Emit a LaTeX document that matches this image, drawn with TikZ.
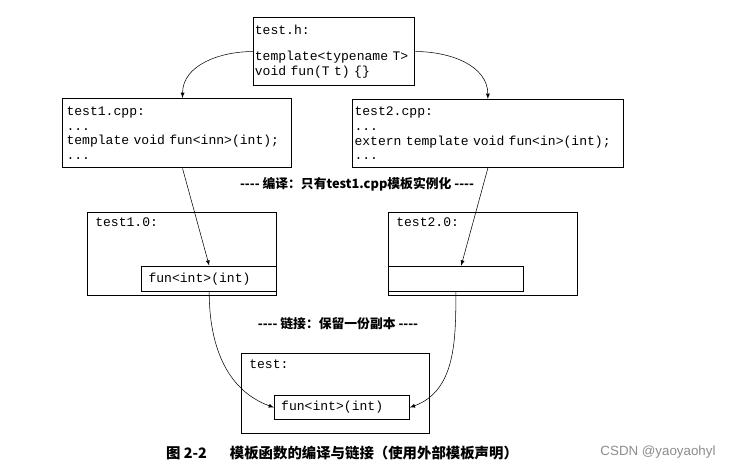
\documentclass[tikz,border=0pt]{standalone}
\usepackage{fontspec}
\newfontfamily\cjk{Noto Sans CJK SC}
\newfontfamily\srcmono{Liberation Mono}
\newfontfamily\marksans{Liberation Sans}
\usetikzlibrary{arrows, positioning}

\newcommand\srcfont{\srcmono\fontsize{9.8}{11}\selectfont}

\tikzset{
  src/.style={draw, line width=0.8pt, anchor=north west, font=\srcfont, align=left, inner xsep=4pt, inner ysep=2pt},
  obj/.style={draw, line width=0.8pt, anchor=north west, inner sep=0pt},
  fn/.style={draw, line width=0.8pt, font=\srcfont, align=left, inner xsep=5pt, inner ysep=0pt, text width=91pt, minimum height=19pt},
  note/.style={font=\cjk\bfseries\fontsize{9.6}{11}\selectfont},
}

\begin{document}
\begin{tikzpicture}[x=0.75pt, y=0.75pt, >=latex]
\useasboundingbox (0,0) rectangle (730,469);

% source files
\node (hdr) at (253,452) [src, inner xsep=1pt, text width=119pt, minimum height=51pt] {test.h:\\[9pt]template<typename T>\\void fun(T t) \{\}};
\node (cppa) at (62,371) [src, inner xsep=3pt, text width=166pt, minimum height=52pt] {test1.cpp:\\...\\template void fun<inn>(int);\\...};
\node (cppb) at (352,370) [src, inner xsep=1.5pt, text width=200pt, minimum height=51pt] {test2.cpp:\\...\\extern template void fun<in>(int);\\...};

\node (compile) at (357,285) [note] {{-}{-}{-}{-} 编译：只有test1.cpp模板实例化 {-}{-}{-}{-}};

% object files
\node (oa) at (87,257) [obj, minimum width=141.75pt, minimum height=62.25pt] {};
\node (oat) [below right=4pt and 6pt of oa.north west, font=\srcfont, inner sep=0pt] {test1.0:};
\node (funa) [fn, above left=3pt and 0pt of oa.south east] {fun<int>(int)};

\node (ob) at (388,257) [obj, minimum width=141.75pt, minimum height=62.25pt] {};
\node (obt) [below right=4pt and 6pt of ob.north west, font=\srcfont, inner sep=0pt] {test2.0:};
\node (funb) [fn, above right=3pt and 0pt of ob.south west] {};

\node (link) at (338,145) [note] {{-}{-}{-}{-} 链接：保留一份副本 {-}{-}{-}{-}};

% executable
\node (exe) at (241,116) [obj, minimum width=141pt, minimum height=60pt] {};
\node (exet) [below right=5pt and 6pt of exe.north west, font=\srcfont, inner sep=0pt] {test:};
\node (func) at (274,74) [fn, anchor=north west, minimum height=18pt] {fun<int>(int)};

\draw [->] (hdr.west) to[out=180, in=90] ([xshift=4pt]cppa.north);
\draw [->] (hdr.east) to[out=0, in=90] (cppb.north);
\draw [->] ([xshift=4pt]cppa.south) -- (funa.north);
\draw [->] (cppb.south) -- ([xshift=4pt]funb.north);
\draw [->] (funa.south) to[out=-90, in=160] (func.west);
\draw [->] (funb.south) to[out=-90, in=20] (func.east);

\node (caption) at (342,16) [font=\cjk\bfseries\fontsize{10.8}{12}\selectfont] {图 2-2\hspace{1.6em}模板函数的编译与链接（使用外部模板声明）};
\node (mark) at (658,17) [font=\marksans\fontsize{10}{12}\selectfont, text=black!45] {CSDN @yaoyaohyl};
\end{tikzpicture}
\end{document}
